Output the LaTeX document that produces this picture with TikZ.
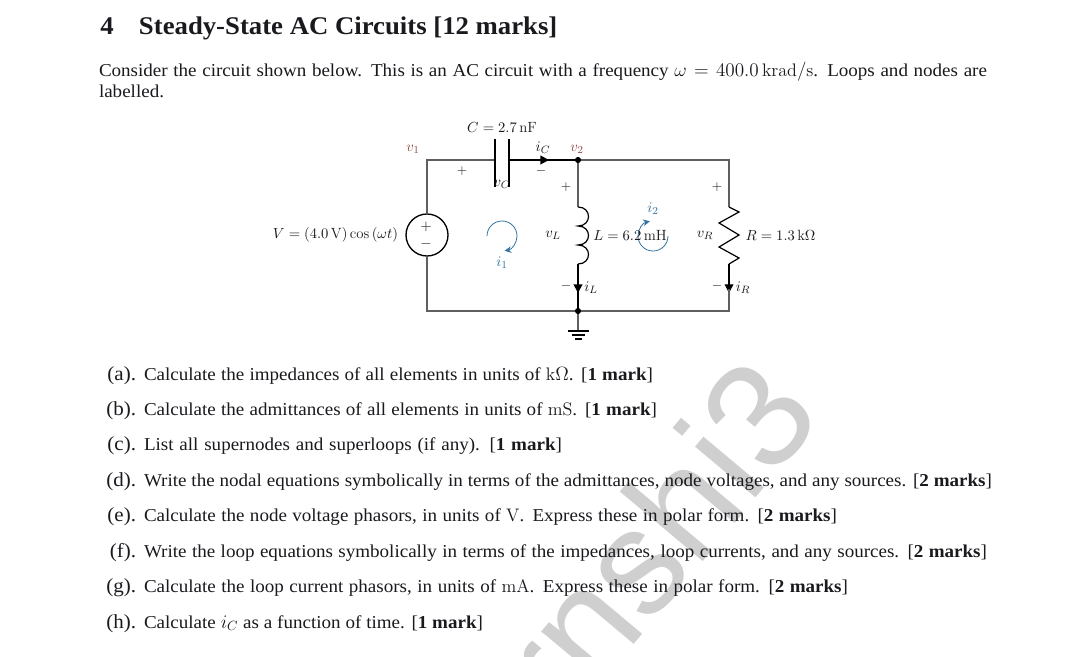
\documentclass[tikz,border=0pt]{standalone}
\usepackage{fontspec}
\usepackage{amsmath}
\setmainfont[FakeStretch=1.05]{Liberation Serif}
\setmathrm{Latin Modern Roman}
\newfontfamily\wmfont{Liberation Sans}
\usetikzlibrary{arrows.meta,calc}
\definecolor{wire}{RGB}{95,95,95}
\definecolor{inkb}{RGB}{25,25,30}
\definecolor{loopc}{RGB}{50,115,160}
\definecolor{nodec}{RGB}{150,75,70}
\newcommand{\fitline}[2]{\makebox[\dimexpr #1pt*3/4\relax][s]{#2}}
\newcommand{\qlabel}[1]{\llap{{\fontsize{15}{16}\selectfont #1}\hspace{6pt}}}
\tikzset{
 wireline/.style={draw=wire,line width=0.9pt},
 elem/.style={draw=black,line width=0.9pt},
 branch/.style={draw=black,line width=1.4pt},
 body/.style={anchor=base west,inner sep=0pt,outer sep=0pt,text=inkb,font=\fontsize{13.6}{16}\selectfont},
 lab/.style={inner sep=0pt,outer sep=0pt,text=inkb,font=\fontsize{11.1}{13}\selectfont},
 sign/.style={inner sep=0pt,outer sep=0pt,text=inkb,font=\fontsize{10}{10}\selectfont},
 nodelab/.style={lab,text=nodec},
 looplab/.style={lab,text=loopc},
 loopline/.style={draw=loopc,line width=0.6pt,-{Stealth[length=5pt,width=5pt]}},
 dot/.style={circle,fill=black,inner sep=0pt,minimum size=4.6pt},
 cur/.style={-{Triangle[length=6.5pt,width=6.5pt]},branch},
 curthin/.style={-{Triangle[length=6.5pt,width=6.5pt]},wireline}
}
\begin{document}
\begin{tikzpicture}[x=0.75pt,y=-0.75pt]
\useasboundingbox (0,0) rectangle (1080,656);
\fill[white] (0,0) rectangle (1080,656);
% watermark
\begin{scope}
\clip (0,0) rectangle (1080,656);
\node[rotate=50,text=black!19,inner sep=0pt,font=\wmfont\fontsize{112}{112}\selectfont] (wm) at (653,538) {rnshi3};
\end{scope}
% title and text
\node[body,font=\fontsize{19.1}{22}\selectfont\bfseries] (title) at (139,35) {\llap{4\hspace{19pt}}Steady-State AC Circuits [12 marks]};
\node[body] (intro1) at (99,77) {\fitline{888}{Consider the circuit shown below. This is an AC circuit with a frequency $\omega=400.0\,\mathrm{krad/s}$. Loops and nodes are}};
\node[body] (intro2) at (99,98) {labelled.};
\node[body] (qa) at (144,380) {\qlabel{(a).}\fitline{509}{Calculate the impedances of all elements in units of $\mathrm{k}\Omega$. [\textbf{1 mark}]}};
\node[body] (qb) at (144,415) {\qlabel{(b).}\fitline{513}{Calculate the admittances of all elements in units of $\mathrm{mS}$. [\textbf{1 mark}]}};
\node[body] (qc) at (144,450) {\qlabel{(c).}\fitline{418}{List all supernodes and superloops (if any). [\textbf{1 mark}]}};
\node[body] (qd) at (144,486) {\qlabel{(d).}\fitline{848}{Write the nodal equations symbolically in terms of the admittances, node voltages, and any sources. [\textbf{2 marks}]}};
\node[body] (qe) at (144,521) {\qlabel{(e).}\fitline{693}{Calculate the node voltage phasors, in units of $\mathrm{V}$. Express these in polar form. [\textbf{2 marks}]}};
\node[body] (qf) at (144,557) {\qlabel{(f).}\fitline{843}{Write the loop equations symbolically in terms of the impedances, loop currents, and any sources. [\textbf{2 marks}]}};
\node[body] (qg) at (144,592) {\qlabel{(g).}\fitline{704}{Calculate the loop current phasors, in units of $\mathrm{mA}$. Express these in polar form. [\textbf{2 marks}]}};
\node[body] (qh) at (144,628) {\qlabel{(h).}\fitline{339}{Calculate $i_C$ as a function of time. [\textbf{1 mark}]}};
% circuit nodes
\coordinate (tl) at (427,160);
\coordinate (bl) at (427,311);
\coordinate (tm) at (578,160);
\coordinate (bm) at (578,311);
\coordinate (tr) at (729,160);
\coordinate (br) at (729,311);
\coordinate (capl) at (495,160);
\coordinate (capr) at (509,160);
\coordinate (indt) at (578,207);
\coordinate (indb) at (578,264);
\coordinate (rest) at (729,207);
\coordinate (resb) at (729,264);
\coordinate (gnd) at (578,331);
\node[circle,draw=black,line width=1pt,fill=white,minimum size=31.5pt,inner sep=0pt] (src) at (427,235) {};
% wires
\draw[wireline] (src.north) -- (tl) -- (capl);
\draw[wireline] (src.south) -- (bl) -- (bm);
\draw[wireline] (bm) -- (br) -- (resb);
\draw[wireline] (tm) -- (tr) -- (rest);
\draw[wireline] (tm) -- (indt);
\draw[wireline] (bm) -- (gnd);
% capacitor
\draw[elem] (495,139) -- (495,187);
\draw[elem] (509,139) -- (509,187);
\draw[cur] (capr) -- (549,160);
\draw[branch] (545,160) -- (tm);
% inductor
\draw[elem] (indt) .. controls (592,207) and (592,226) .. (578,226)
 .. controls (592,226) and (592,245) .. (578,245)
 .. controls (592,245) and (592,264) .. (578,264);
\draw[cur] (indb) -- (578,293);
\draw[branch] (578,289) -- (bm);
% resistor
\draw[elem] (rest) -- (739,212) -- (719,223) -- (739,235) -- (719,247) -- (739,258) -- (resb);
\draw[curthin,draw=black] (resb) -- (729,293);
\draw[wireline] (729,289) -- (br);
% junctions
\node[dot] (n2) at (tm) {};
\node[dot] (n0) at (bm) {};
% ground
\draw[elem] (568,331) -- (589,331);
\draw[elem] (572,335) -- (585,335);
\draw[elem] (575,339) -- (582,339);
% source signs
\node[sign,font=\fontsize{11}{11}\selectfont] (sp) at (426,227) {$+$};
\node[sign,font=\fontsize{11}{11}\selectfont] (sm) at (426,244) {$-$};
% loop arrows
\draw[loopline] (487,236) arc[start angle=180,end angle=440,radius=15];
\draw[loopline] (668,236) arc[start angle=0,end angle=258,radius=15];
% labels
\node[lab] (vsl) at (335.5,235) {$V=(4.0\,\mathrm{V})\cos{(\omega t)}$};
\node[lab] (cl) at (502,127) {$C=2.7\,\mathrm{nF}$};
\node[nodelab] (v1) at (413,149) {$v_1$};
\node[nodelab] (v2) at (577,149) {$v_2$};
\node[lab] (ic) at (543,148) {$i_C$};
\node[lab] (vc) at (502,184) {$v_C$};
\node[sign] (cp) at (462,171) {$+$};
\node[sign] (cm) at (541,171) {$-$};
\node[sign] (lp) at (566,187) {$+$};
\node[sign] (lm) at (566,286) {$-$};
\node[sign] (rp) at (717,187) {$+$};
\node[sign] (rm) at (717,286) {$-$};
\node[lab] (vl) at (553,235) {$v_L$};
\node[lab] (vr) at (705,235) {$v_R$};
\node[lab] (il) at (591,288) {$i_L$};
\node[lab] (ir) at (743,288) {$i_R$};
\node[lab] (ll) at (630,235) {$L=6.2\,\mathrm{mH}$};
\node[lab] (rl) at (780.5,235) {$R=1.3\,\mathrm{k}\Omega$};
\node[looplab] (i1) at (502,263) {$i_1$};
\node[looplab] (i2) at (653,209) {$i_2$};
\end{tikzpicture}
\end{document}
